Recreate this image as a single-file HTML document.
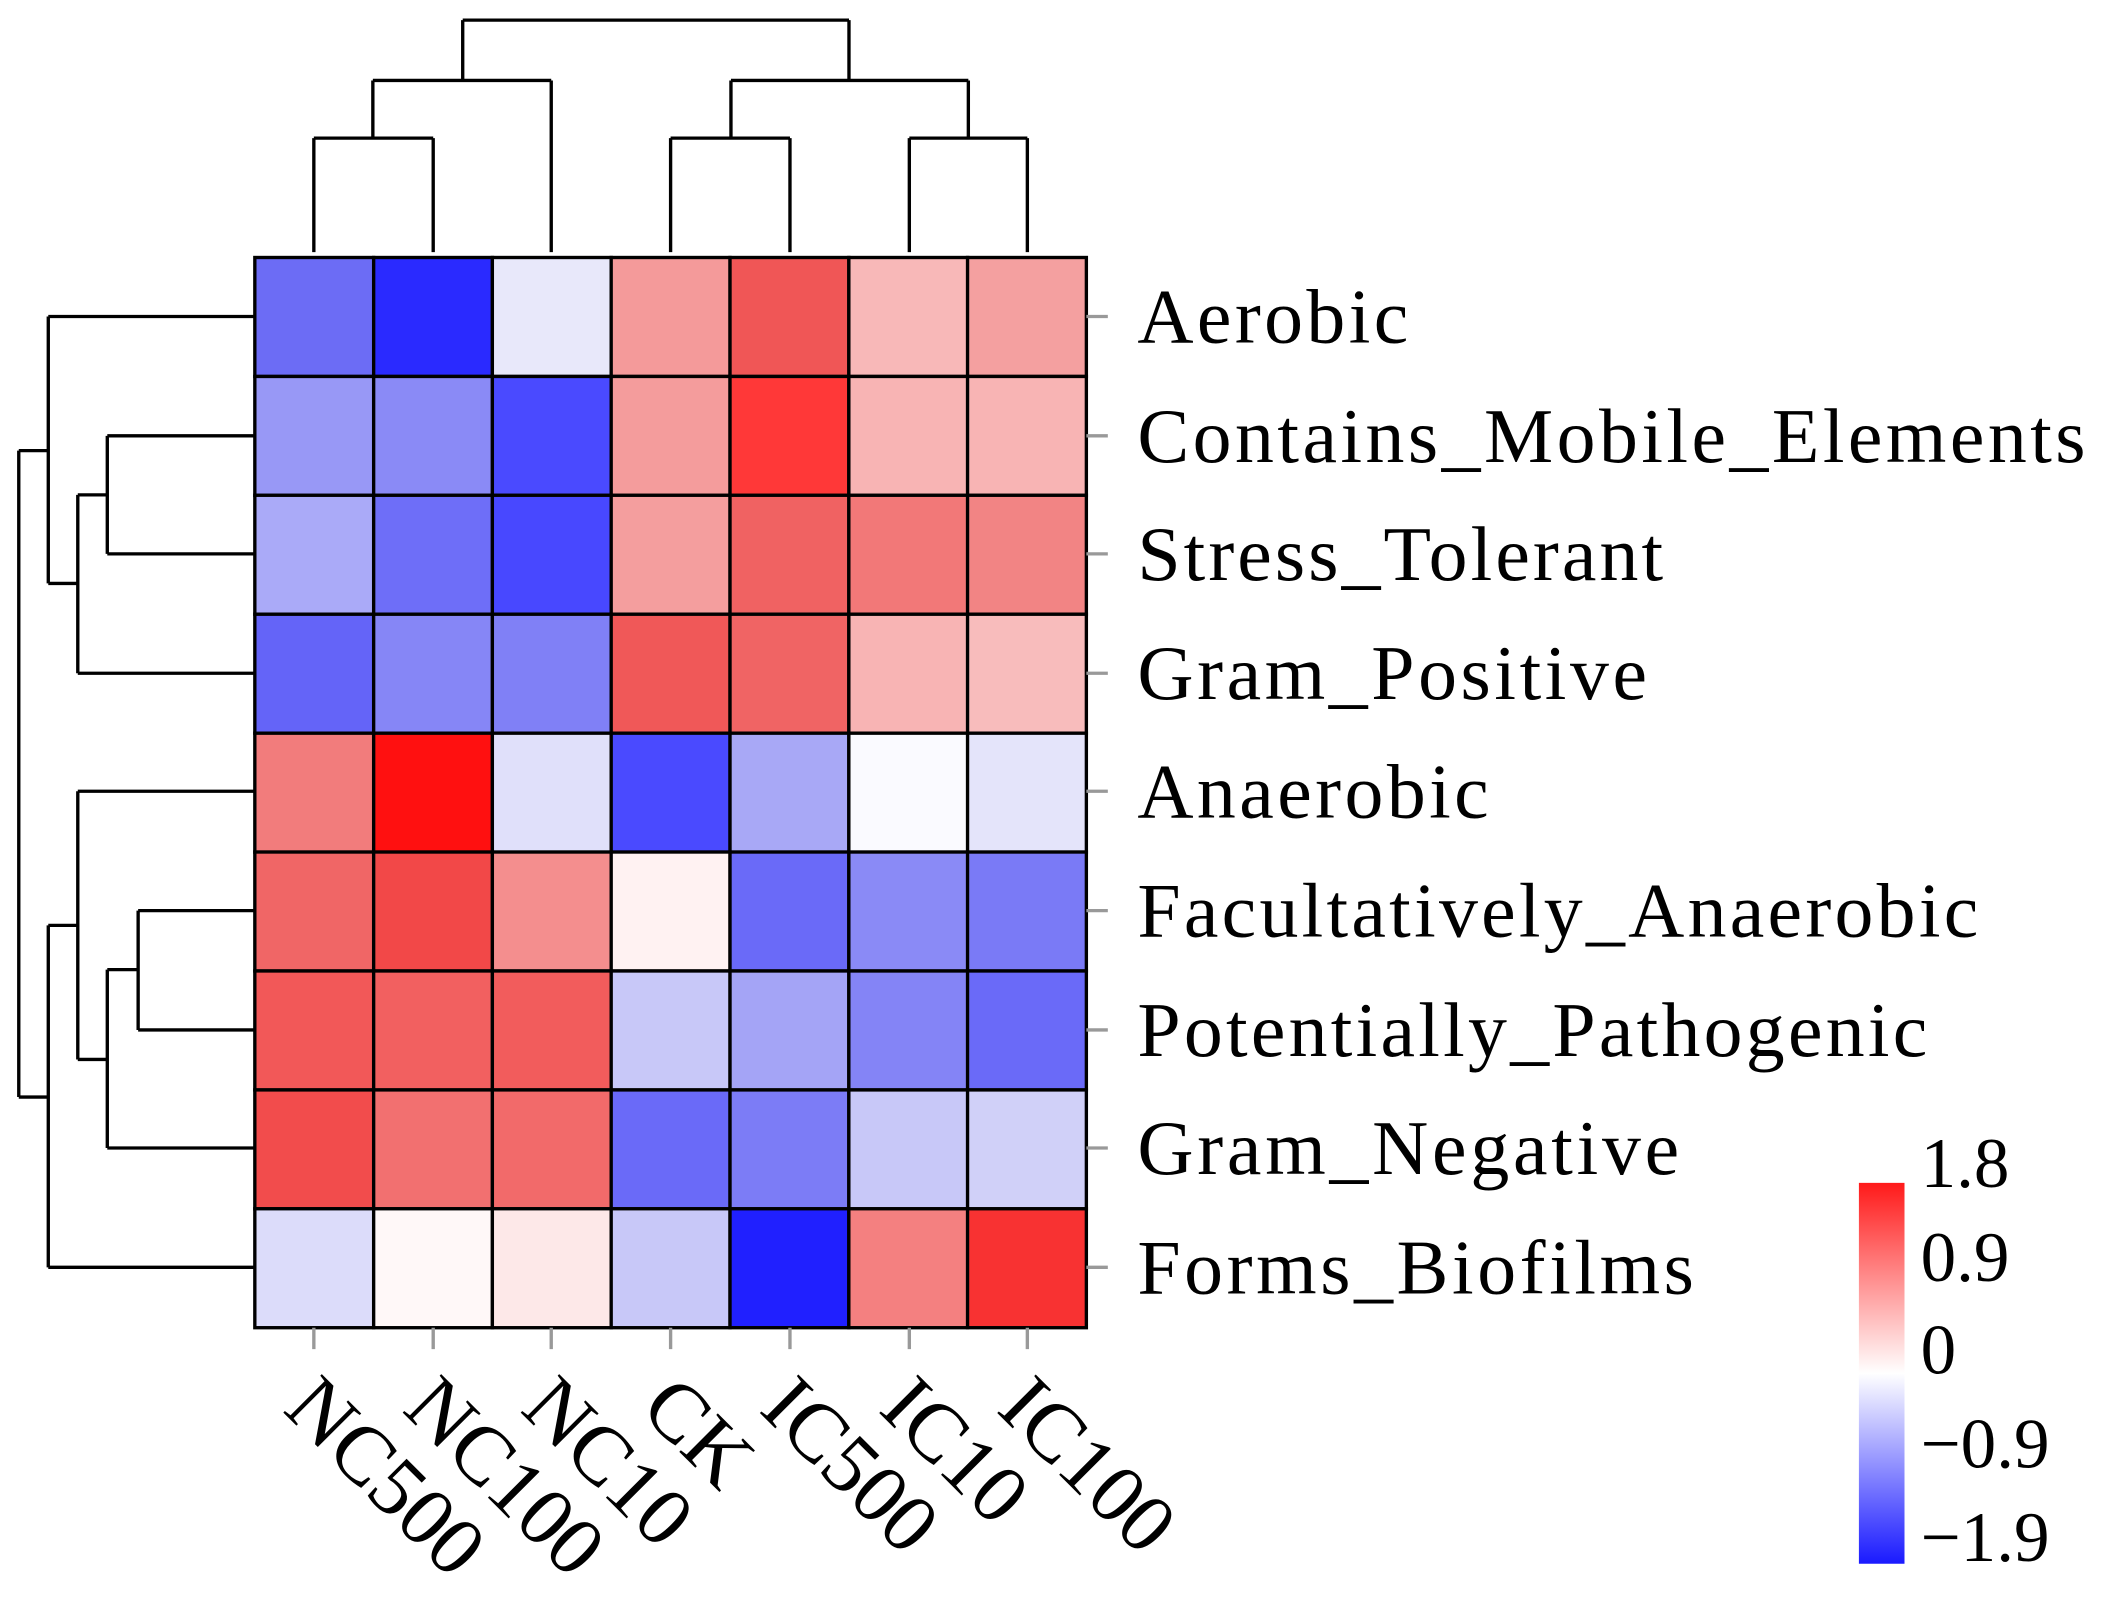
<!DOCTYPE html>
<html><head><style>html,body{margin:0;padding:0;background:#fff}svg{display:block}</style></head>
<body>
<svg width="2103" height="1608" viewBox="0 0 1568 1199" preserveAspectRatio="none" xmlns="http://www.w3.org/2000/svg" font-family="'Liberation Serif', serif">
<defs><linearGradient id="cb" x1="0" y1="0" x2="0" y2="1">
<stop offset="0" stop-color="#ff1a1a"/><stop offset="0.5" stop-color="#ffffff"/><stop offset="1" stop-color="#1a1aff"/></linearGradient></defs>
<g stroke="#000" stroke-width="2.5">
<rect x="190" y="192" width="88.6" height="88.7" fill="#6c6cf5"/><rect x="278.6" y="192" width="88.6" height="88.7" fill="#2a2aff"/><rect x="367.1" y="192" width="88.6" height="88.7" fill="#e8e8fa"/><rect x="455.7" y="192" width="88.6" height="88.7" fill="#f49a9a"/><rect x="544.3" y="192" width="88.6" height="88.7" fill="#f05656"/><rect x="632.9" y="192" width="88.6" height="88.7" fill="#f8b8b8"/><rect x="721.4" y="192" width="88.6" height="88.7" fill="#f4a0a0"/>
<rect x="190" y="280.7" width="88.6" height="88.7" fill="#9898f6"/><rect x="278.6" y="280.7" width="88.6" height="88.7" fill="#8a8af6"/><rect x="367.1" y="280.7" width="88.6" height="88.7" fill="#4a4aff"/><rect x="455.7" y="280.7" width="88.6" height="88.7" fill="#f49c9c"/><rect x="544.3" y="280.7" width="88.6" height="88.7" fill="#ff3838"/><rect x="632.9" y="280.7" width="88.6" height="88.7" fill="#f8b4b4"/><rect x="721.4" y="280.7" width="88.6" height="88.7" fill="#f8b4b4"/>
<rect x="190" y="369.3" width="88.6" height="88.7" fill="#aaaaf8"/><rect x="278.6" y="369.3" width="88.6" height="88.7" fill="#6e6ef8"/><rect x="367.1" y="369.3" width="88.6" height="88.7" fill="#4848ff"/><rect x="455.7" y="369.3" width="88.6" height="88.7" fill="#f49e9e"/><rect x="544.3" y="369.3" width="88.6" height="88.7" fill="#f06262"/><rect x="632.9" y="369.3" width="88.6" height="88.7" fill="#f27878"/><rect x="721.4" y="369.3" width="88.6" height="88.7" fill="#f28484"/>
<rect x="190" y="458" width="88.6" height="88.7" fill="#6464f8"/><rect x="278.6" y="458" width="88.6" height="88.7" fill="#8686f6"/><rect x="367.1" y="458" width="88.6" height="88.7" fill="#8080f6"/><rect x="455.7" y="458" width="88.6" height="88.7" fill="#f05858"/><rect x="544.3" y="458" width="88.6" height="88.7" fill="#f06464"/><rect x="632.9" y="458" width="88.6" height="88.7" fill="#f8b4b4"/><rect x="721.4" y="458" width="88.6" height="88.7" fill="#f8bcbc"/>
<rect x="190" y="546.7" width="88.6" height="88.7" fill="#f27c7c"/><rect x="278.6" y="546.7" width="88.6" height="88.7" fill="#ff1010"/><rect x="367.1" y="546.7" width="88.6" height="88.7" fill="#e0e0fa"/><rect x="455.7" y="546.7" width="88.6" height="88.7" fill="#4a4aff"/><rect x="544.3" y="546.7" width="88.6" height="88.7" fill="#a8a8f6"/><rect x="632.9" y="546.7" width="88.6" height="88.7" fill="#fafaff"/><rect x="721.4" y="546.7" width="88.6" height="88.7" fill="#e4e4fa"/>
<rect x="190" y="635.3" width="88.6" height="88.7" fill="#f06666"/><rect x="278.6" y="635.3" width="88.6" height="88.7" fill="#f24848"/><rect x="367.1" y="635.3" width="88.6" height="88.7" fill="#f48e8e"/><rect x="455.7" y="635.3" width="88.6" height="88.7" fill="#fff2f2"/><rect x="544.3" y="635.3" width="88.6" height="88.7" fill="#6a6af8"/><rect x="632.9" y="635.3" width="88.6" height="88.7" fill="#8a8af6"/><rect x="721.4" y="635.3" width="88.6" height="88.7" fill="#7a7af6"/>
<rect x="190" y="724" width="88.6" height="88.7" fill="#f25858"/><rect x="278.6" y="724" width="88.6" height="88.7" fill="#f26060"/><rect x="367.1" y="724" width="88.6" height="88.7" fill="#f25c5c"/><rect x="455.7" y="724" width="88.6" height="88.7" fill="#c8c8f8"/><rect x="544.3" y="724" width="88.6" height="88.7" fill="#a4a4f6"/><rect x="632.9" y="724" width="88.6" height="88.7" fill="#8484f6"/><rect x="721.4" y="724" width="88.6" height="88.7" fill="#6a6af8"/>
<rect x="190" y="812.7" width="88.6" height="88.7" fill="#f24c4c"/><rect x="278.6" y="812.7" width="88.6" height="88.7" fill="#f27070"/><rect x="367.1" y="812.7" width="88.6" height="88.7" fill="#f26a6a"/><rect x="455.7" y="812.7" width="88.6" height="88.7" fill="#6a6af8"/><rect x="544.3" y="812.7" width="88.6" height="88.7" fill="#7c7cf6"/><rect x="632.9" y="812.7" width="88.6" height="88.7" fill="#c8c8f8"/><rect x="721.4" y="812.7" width="88.6" height="88.7" fill="#d0d0f8"/>
<rect x="190" y="901.3" width="88.6" height="88.7" fill="#dcdcfa"/><rect x="278.6" y="901.3" width="88.6" height="88.7" fill="#fff8f8"/><rect x="367.1" y="901.3" width="88.6" height="88.7" fill="#fde8e8"/><rect x="455.7" y="901.3" width="88.6" height="88.7" fill="#c8c8f8"/><rect x="544.3" y="901.3" width="88.6" height="88.7" fill="#2020ff"/><rect x="632.9" y="901.3" width="88.6" height="88.7" fill="#f48080"/><rect x="721.4" y="901.3" width="88.6" height="88.7" fill="#f83232"/>
</g>
<g stroke="#000" stroke-width="2.5" fill="none">
<path d="M190 236H36M190 325H80M190 413H80M80 325V413M80 369H58M190 502H58M58 369V502M58 435H36M36 236V435M36 336H14"/>
<path d="M190 679H103M190 768H103M103 679V768M103 723H80M190 856H80M80 723V856M80 790H58M190 590H58M58 590V790M58 690H36M190 945H36M36 690V945M36 818H14M14 336V818"/>
<path d="M234 188V103M323 188V103M234 103H323M278 103V60M411 188V60M278 60H411M345 60V15"/>
<path d="M500 188V103M589 188V103M500 103H589M545 103V60M678 188V103M766 188V103M678 103H766M722 103V60M545 60H722M633 60V15M345 15H633"/>
</g>
<g stroke="#999" stroke-width="2.5">
<path d="M810 236H826M810 325H826M810 413H826M810 502H826M810 590H826M810 679H826M810 768H826M810 856H826M810 945H826"/>
<path d="M234 990V1006M323 990V1006M411 990V1006M500 990V1006M589 990V1006M678 990V1006M766 990V1006"/>
</g>
<g font-size="58" fill="#000" dominant-baseline="central" lengthAdjust="spacingAndGlyphs">
<text x="848" y="236" textLength="202">Aerobic</text>
<text x="848" y="325" textLength="707">Contains_Mobile_Elements</text>
<text x="848" y="413" textLength="392">Stress_Tolerant</text>
<text x="848" y="502" textLength="380">Gram_Positive</text>
<text x="848" y="590" textLength="262">Anaerobic</text>
<text x="848" y="679" textLength="627">Facultatively_Anaerobic</text>
<text x="848" y="768" textLength="589">Potentially_Pathogenic</text>
<text x="848" y="856" textLength="404">Gram_Negative</text>
<text x="848" y="945" textLength="415">Forms_Biofilms</text>
</g>
<g font-size="62" fill="#000">
<text transform="translate(210,1052) rotate(45)">NC500</text>
<text transform="translate(299,1052) rotate(45)">NC100</text>
<text transform="translate(387,1052) rotate(45)">NC10</text>
<text transform="translate(476,1052) rotate(45)">CK</text>
<text transform="translate(565,1052) rotate(45)">IC500</text>
<text transform="translate(654,1052) rotate(45)">IC10</text>
<text transform="translate(742,1052) rotate(45)">IC100</text>
</g>
<rect x="1386" y="882" width="34" height="284" fill="url(#cb)"/>
<g font-size="53" fill="#000" dominant-baseline="central">
<text x="1432" y="868">1.8</text>
<text x="1432" y="938">0.9</text>
<text x="1432" y="1007">0</text>
<text x="1432" y="1077">−0.9</text>
<text x="1432" y="1147">−1.9</text>
</g>
</svg>
</body></html>
